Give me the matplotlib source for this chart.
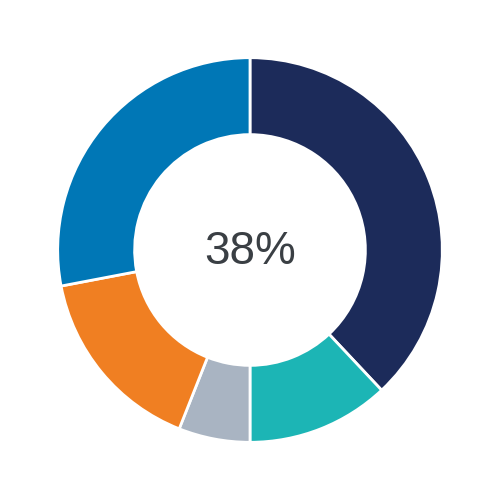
import matplotlib
matplotlib.use("Agg")
import matplotlib.pyplot as plt

labels = ["A", "B", "C", "D", "E"]
values = [38, 12, 6, 16, 28]
colors = ["#1c2b5a", "#1cb5b5", "#a9b4c2", "#f07f22", "#0077b6"]
center_text = "38%"

fig = plt.figure(figsize=(5, 5), dpi=100)
ax = fig.add_axes([0, 0, 1, 1])
ax.pie(values, colors=colors, startangle=90, counterclock=False, radius=1.0,
       wedgeprops=dict(width=0.4, edgecolor="white", linewidth=2.0))
ax.text(0, -0.01, center_text, ha="center", va="center", fontsize=33,
        color="#3a3f44", family=["Liberation Sans", "DejaVu Sans"])
ax.set_xlim(-1.3, 1.3)
ax.set_ylim(-1.3, 1.3)
ax.set_aspect("equal")
ax.axis("off")
fig.savefig("out.png", dpi=100, facecolor="white")
